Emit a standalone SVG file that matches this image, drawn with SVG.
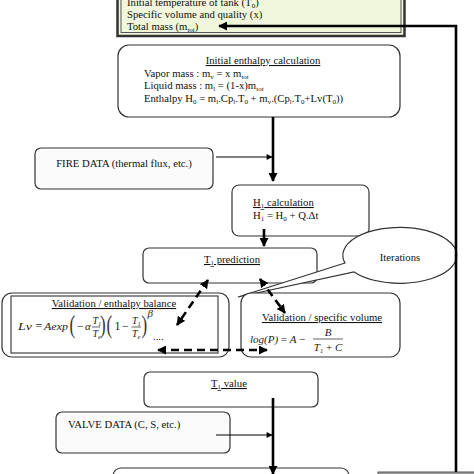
<svg xmlns="http://www.w3.org/2000/svg" width="474" height="474" viewBox="0 0 474 474">
<style>
.t{font-family:"Liberation Serif","Times New Roman",serif;font-size:10.7px;fill:#111}
.c{text-anchor:middle}
.u{text-decoration:underline}
.s{font-size:7px;baseline-shift:-2px}
.m{font-family:"Liberation Serif","Times New Roman",serif;font-style:italic;font-size:11px;fill:#222}
.r{font-family:"Liberation Serif","Times New Roman",serif;font-size:12px;fill:#222}
.f{font-family:"Liberation Serif","Times New Roman",serif;font-style:italic;font-size:10px;fill:#222}
.p{font-family:"Liberation Serif",serif;font-size:17px;fill:#333}
.box{fill:#fff;stroke:#333;stroke-width:1.2}
.gbox{fill:#fbfbfb;stroke:#333;stroke-width:1.2}
.thick{stroke:#000;stroke-width:2.6;fill:none}
.thin{stroke:#000;stroke-width:1;fill:none}
.dash{stroke:#000;stroke-width:2.6;fill:none;stroke-dasharray:8 5}
.bar{stroke:#222;stroke-width:0.7}
</style>
<defs>
<marker id="ah" viewBox="0 0 10 10" refX="9" refY="5" markerWidth="9" markerHeight="9" markerUnits="userSpaceOnUse" orient="auto-start-reverse"><path d="M0,0 L10,5 L0,10 Z" fill="#000"/></marker>
<marker id="as" viewBox="0 0 10 10" refX="9" refY="5" markerWidth="7" markerHeight="6" markerUnits="userSpaceOnUse" orient="auto"><path d="M0,0 L10,5 L0,10 Z" fill="#000"/></marker>
</defs>

<g id="input-data">
<rect x="117.5" y="-12" width="287" height="48" fill="#f1f7da" stroke="#333" stroke-width="2.5"/>
<rect x="121" y="-12" width="280" height="44.5" fill="none" stroke="#555" stroke-width="1"/>
<text class="t" x="127" y="6">Initial temperature of tank (T<tspan class="s">0</tspan>)</text>
<text class="t" x="127" y="18">Specific volume and quality (x)</text>
<text class="t" x="127" y="29.5">Total mass (m<tspan class="s">tot</tspan>)</text>
</g>

<g id="initial-enthalpy">
<rect class="box" x="118" y="45" width="282" height="72" rx="11"/>
<text class="t c u" x="263" y="64">Initial enthalpy calculation</text>
<text class="t" x="144" y="76.5">Vapor mass : m<tspan class="s">v</tspan> = x m<tspan class="s">tot</tspan></text>
<text class="t" x="144" y="89">Liquid mass : m<tspan class="s">l</tspan> = (1-x)m<tspan class="s">tot</tspan></text>
<text class="t" x="144" y="101.5">Enthalpy H<tspan class="s">0</tspan> = m<tspan class="s">l</tspan>.Cp<tspan class="s">l</tspan>.T<tspan class="s">0</tspan> + m<tspan class="s">v</tspan>.(Cp<tspan class="s">l</tspan>.T<tspan class="s">0</tspan>+Lv(T<tspan class="s">0</tspan>))</text>
</g>

<g id="fire-data">
<rect class="gbox" x="35" y="148" width="178" height="41" rx="6"/>
<text class="t c" x="124" y="167">FIRE DATA (thermal flux, etc.)</text>
</g>

<g id="h1-calculation">
<rect class="box" x="232" y="185" width="137" height="51" rx="7"/>
<text class="t u" x="253" y="206">H<tspan class="s">1</tspan> calculation</text>
<text class="t" x="253" y="218.5">H<tspan class="s">1</tspan> = H<tspan class="s">0</tspan> + Q.Δt</text>
</g>

<g id="t1-prediction">
<rect class="box" x="143" y="248" width="174" height="35" rx="6"/>
<text class="t c u" x="232" y="263">T<tspan class="s">1</tspan> prediction</text>
</g>

<g id="iterations">
<path d="M345,263 L238,297 L354,272 A57 28 0 1 0 345,263 Z" fill="#fff" stroke="#333" stroke-width="1.2"/>
<text class="t c" x="400" y="261">Iterations</text>
</g>

<g id="validation-enthalpy">
<rect class="box" x="2" y="293" width="227" height="64" rx="10"/>
<rect x="11" y="296" width="207" height="57" fill="none" stroke="#444" stroke-width="1.2"/>
<text class="t c u" x="114" y="307">Validation / enthalpy balance</text>
<text class="m" x="18" y="330" font-size="12" textLength="14" lengthAdjust="spacingAndGlyphs">Lv</text>
<text class="r" x="35.5" y="330">=</text>
<text class="m" x="44" y="330" font-size="12" textLength="24" lengthAdjust="spacingAndGlyphs">Aexp</text>
<text class="p" transform="translate(69.5,333) scale(1,1.45)">(</text>
<text class="r" x="77" y="330">−</text>
<text class="m" x="85" y="330" font-size="12">α</text>
<text class="f" x="92.5" y="323.5">T<tspan font-size="6.5" baseline-shift="-1.5">1</tspan></text>
<line class="bar" x1="92" y1="327" x2="100" y2="327"/>
<text class="f" x="92.5" y="336.5">T<tspan font-size="6.5" baseline-shift="-1.5">e</tspan></text>
<text class="p" transform="translate(100,333) scale(1,1.45)">)</text>
<text class="p" transform="translate(106.5,333) scale(1,1.45)">(</text>
<text class="r" x="114.5" y="330">1</text>
<text class="r" x="122" y="330">−</text>
<text class="f" x="132" y="323.5">T<tspan font-size="6.5" baseline-shift="-1.5">1</tspan></text>
<line class="bar" x1="131.5" y1="327" x2="141" y2="327"/>
<text class="f" x="132" y="336.5">T<tspan font-size="6.5" baseline-shift="-1.5">e</tspan></text>
<text class="p" transform="translate(141.5,333) scale(1,1.45)">)</text>
<text class="m" x="147.5" y="316.5" font-size="7">β</text>
<text class="t" x="153" y="340">....</text>
</g>

<g id="validation-volume">
<rect class="box" x="241" y="293" width="159" height="64" rx="10"/>
<text class="t c u" x="322" y="321">Validation / specific volume</text>
<text class="m" x="250" y="342.5">log(P) <tspan font-style="normal">=</tspan> A <tspan font-style="normal">−</tspan></text>
<text class="m c" x="328" y="335.5">B</text>
<line class="bar" x1="313" y1="339" x2="343" y2="339"/>
<text class="m c" x="328" y="350.5">T<tspan font-size="6.5" baseline-shift="-1.5">1</tspan> <tspan font-style="normal">+</tspan> C</text>
</g>

<g id="t1-value">
<rect class="box" x="144" y="372" width="174" height="35" rx="6"/>
<text class="t c u" x="229" y="387">T<tspan class="s">1</tspan> value</text>
</g>

<g id="valve-data">
<rect class="gbox" x="56" y="412" width="174" height="41" rx="6"/>
<text class="t" x="68" y="428">VALVE  DATA (C, S, etc.)</text>
</g>

<g id="next-step">
<rect class="box" x="113" y="468" width="236" height="20" rx="8"/>
</g>

<g id="end-block">
<rect x="378" y="472" width="110" height="20" fill="#9c9c9c" stroke="#555" stroke-width="1"/>
</g>

<g id="connectors">
<polyline class="thick" points="456,472 456,26 219,26" marker-end="url(#ah)"/>
<line class="thick" x1="273" y1="117" x2="273" y2="181" marker-end="url(#ah)"/>
<line class="thin" x1="216" y1="157" x2="272" y2="157" marker-end="url(#as)"/>
<line class="thick" x1="264" y1="229" x2="264" y2="246" marker-end="url(#ah)"/>
<line class="dash" x1="208" y1="280" x2="177" y2="325" marker-start="url(#ah)" marker-end="url(#ah)"/>
<line class="dash" x1="260" y1="279" x2="285" y2="313" marker-start="url(#ah)" marker-end="url(#ah)"/>
<line class="dash" x1="158" y1="350" x2="267" y2="350" marker-start="url(#ah)" marker-end="url(#ah)"/>
<line class="thick" x1="273" y1="398" x2="273" y2="474" marker-end="url(#ah)"/>
<line class="thin" x1="216" y1="435" x2="272" y2="435" marker-end="url(#as)"/>
</g>
</svg>
